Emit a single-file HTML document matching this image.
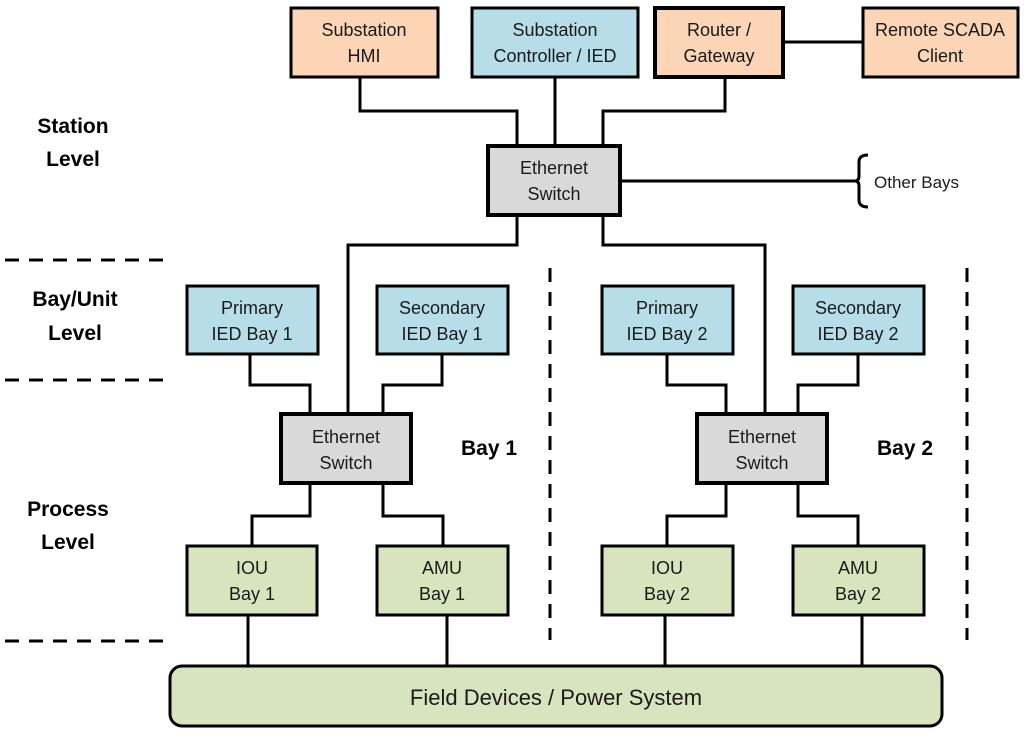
<!DOCTYPE html>
<html><head><meta charset="utf-8"><style>
html,body{margin:0;padding:0;background:#fff;}
svg{display:block;}
text{font-family:"Liberation Sans",sans-serif;}
.b{font-size:18px;fill:#1a1a1a;text-anchor:middle;}
.h{font-size:21px;font-weight:bold;fill:#000;text-anchor:middle;}
</style></head><body>
<svg width="1024" height="739" viewBox="0 0 1024 739" xmlns="http://www.w3.org/2000/svg">
<g fill="none" stroke="#000" stroke-width="3">
<polyline points="360,77 360,111 517,111 517,146"/>
<line x1="555" y1="77" x2="555" y2="146"/>
<polyline points="725,77 725,111 603,111 603,146"/>
<line x1="783" y1="42" x2="863" y2="42"/>
<line x1="620" y1="181" x2="857" y2="181"/>
<path d="M868,155 Q859,155 859,162 L859,176 Q859,181 855,181 Q859,181 859,186 L859,200 Q859,207 868,207"/>
<polyline points="517,215 517,245 348,245 348,414"/>
<polyline points="603,215 603,245 765,245 765,414"/>
<polyline points="250,354 250,385 310,385 310,414"/>
<polyline points="442,354 442,385 383,385 383,414"/>
<polyline points="310,483 310,516 252,516 252,546"/>
<polyline points="383,483 383,516 443,516 443,546"/>
<line x1="248" y1="615" x2="248" y2="666"/>
<line x1="447" y1="615" x2="447" y2="666"/>
<polyline points="667,354 667,385 726,385 726,414"/>
<polyline points="858,354 858,385 798,385 798,414"/>
<polyline points="726,483 726,516 667,516 667,546"/>
<polyline points="798,483 798,516 858,516 858,546"/>
<line x1="665" y1="615" x2="665" y2="666"/>
<line x1="862" y1="615" x2="862" y2="666"/>
<g stroke-dasharray="14,10">
<line x1="5" y1="260" x2="165" y2="260"/>
<line x1="5" y1="380" x2="165" y2="380"/>
<line x1="5" y1="641" x2="165" y2="641"/>
<line x1="550" y1="268" x2="550" y2="640"/>
<line x1="967" y1="268" x2="967" y2="640"/>
</g>
</g>
<g stroke="#000" stroke-width="3">
<rect x="291" y="8" width="147" height="69" fill="#fbd5b5"/>
<rect x="472" y="8" width="166" height="69" fill="#b7dde8"/>
<rect x="655" y="8" width="128" height="69" fill="#fbd5b5" stroke-width="4"/>
<rect x="863" y="8" width="155" height="69" fill="#fbd5b5"/>
<rect x="488" y="146" width="132" height="69" fill="#d9d9d9" stroke-width="4"/>
<rect x="187" y="286" width="131" height="68" fill="#b7dde8"/>
<rect x="377" y="286" width="131" height="68" fill="#b7dde8"/>
<rect x="602" y="286" width="131" height="68" fill="#b7dde8"/>
<rect x="793" y="286" width="131" height="68" fill="#b7dde8"/>
<rect x="281" y="414" width="130" height="69" fill="#d9d9d9" stroke-width="4"/>
<rect x="697" y="414" width="130" height="69" fill="#d9d9d9" stroke-width="4"/>
<rect x="187" y="546" width="130" height="69" fill="#d7e4bd"/>
<rect x="377" y="546" width="131" height="69" fill="#d7e4bd"/>
<rect x="602" y="546" width="131" height="69" fill="#d7e4bd"/>
<rect x="793" y="546" width="131" height="69" fill="#d7e4bd"/>
<rect x="170" y="666" width="772" height="60" rx="12" fill="#d7e4bd"/>
</g>
<text class="b" x="364" y="36">Substation</text><text class="b" x="364" y="62">HMI</text>
<text class="b" x="555" y="36">Substation</text><text class="b" x="555" y="62">Controller / IED</text>
<text class="b" x="719" y="36">Router /</text><text class="b" x="719" y="62">Gateway</text>
<text class="b" x="940" y="36">Remote SCADA</text><text class="b" x="940" y="62">Client</text>
<text class="b" x="554" y="174">Ethernet</text><text class="b" x="554" y="200">Switch</text>
<text class="b" x="252" y="314">Primary</text><text class="b" x="252" y="340">IED Bay 1</text>
<text class="b" x="442" y="314">Secondary</text><text class="b" x="442" y="340">IED Bay 1</text>
<text class="b" x="667" y="314">Primary</text><text class="b" x="667" y="340">IED Bay 2</text>
<text class="b" x="858" y="314">Secondary</text><text class="b" x="858" y="340">IED Bay 2</text>
<text class="b" x="346" y="443">Ethernet</text><text class="b" x="346" y="469">Switch</text>
<text class="b" x="762" y="443">Ethernet</text><text class="b" x="762" y="469">Switch</text>
<text class="b" x="252" y="574">IOU</text><text class="b" x="252" y="600">Bay 1</text>
<text class="b" x="442" y="574">AMU</text><text class="b" x="442" y="600">Bay 1</text>
<text class="b" x="667" y="574">IOU</text><text class="b" x="667" y="600">Bay 2</text>
<text class="b" x="858" y="574">AMU</text><text class="b" x="858" y="600">Bay 2</text>
<text class="b" x="556" y="705" style="font-size:22px">Field Devices / Power System</text>
<text x="874" y="188" style="font-size:17px;fill:#1a1a1a;text-anchor:start">Other Bays</text>
<text class="h" x="73" y="133">Station</text><text class="h" x="73" y="166">Level</text>
<text class="h" x="75" y="306">Bay/Unit</text><text class="h" x="75" y="340">Level</text>
<text class="h" x="68" y="516">Process</text><text class="h" x="68" y="549">Level</text>
<text class="h" x="489" y="455">Bay 1</text>
<text class="h" x="905" y="455">Bay 2</text>
</svg>
</body></html>
